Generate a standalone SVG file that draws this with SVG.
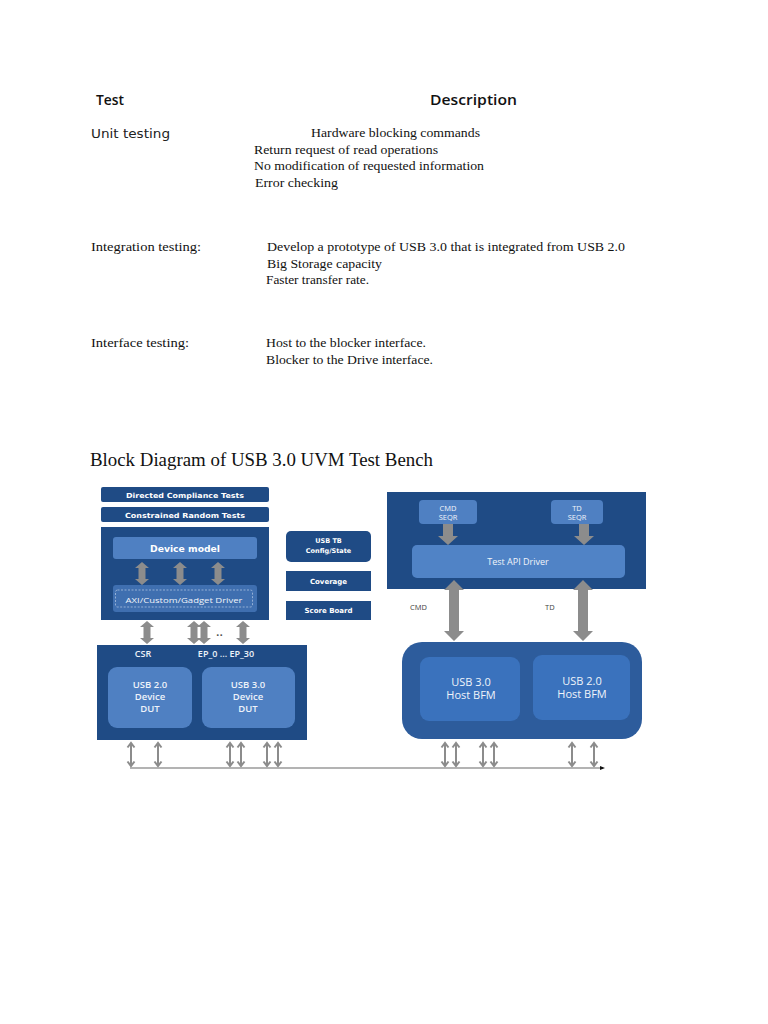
<svg xmlns="http://www.w3.org/2000/svg" width="768" height="1024" viewBox="0 0 768 1024">
<style>
.hdr{font-family:"Open Sans","DejaVu Sans",sans-serif;font-weight:600;font-size:14px;fill:#111}
.sans{font-family:"DejaVu Sans",sans-serif;font-size:13px;fill:#222}
.ser{font-family:"Liberation Serif",serif;font-size:13.5px;fill:#111}
.title{font-family:"Liberation Serif",serif;font-size:19px;fill:#111}
.bt{font-family:"DejaVu Sans",sans-serif;font-weight:bold;fill:#fff;text-anchor:middle}
.rt{font-family:"Open Sans","DejaVu Sans",sans-serif;fill:#f0f4fa;text-anchor:middle}
.st{font-family:"Open Sans","DejaVu Sans",sans-serif;font-weight:600;fill:#eef3fa;text-anchor:middle}
.lbl{font-family:"Open Sans","DejaVu Sans",sans-serif;font-size:7.5px;fill:#444}
.dark{fill:#1f4b85}
.light{fill:#4f80c2}
.ga{fill:#8c8c8c}
.thin{fill:none;stroke:#8c8c8c;stroke-width:2}
</style>
<defs>
<path id="dblS" d="M0,0 L7,6 L3.5,6 L3.5,17 L7,17 L0,23 L-7,17 L-3.5,17 L-3.5,6 L-7,6 Z"/>
<path id="dblL" d="M0,0 L10,10 L5,10 L5,51 L10,51 L0,61 L-10,51 L-5,51 L-5,10 L-10,10 Z"/>
<path id="down" d="M-5,0 L5,0 L5,12 L10,12 L0,21 L-10,12 L-5,12 Z"/>
<path id="thinA" d="M0,743 L0,766 M-3.5,747.5 L0,743 L3.5,747.5 M-3.5,761.5 L0,766 L3.5,761.5"/>
</defs>
<rect width="768" height="1024" fill="#fff"/>

<g id="table">
<text class="hdr" x="96" y="105" textLength="28" lengthAdjust="spacingAndGlyphs">Test</text>
<text class="hdr" x="430" y="105" textLength="87" lengthAdjust="spacingAndGlyphs">Description</text>
<text class="sans" x="91" y="138" textLength="79" lengthAdjust="spacingAndGlyphs">Unit testing</text>
<text class="ser" x="311" y="137" textLength="169" lengthAdjust="spacingAndGlyphs">Hardware blocking commands</text>
<text class="ser" x="254" y="154" textLength="184" lengthAdjust="spacingAndGlyphs">Return request of read operations</text>
<text class="ser" x="254" y="170" textLength="230" lengthAdjust="spacingAndGlyphs">No modification of requested information</text>
<text class="ser" x="255" y="187" textLength="83" lengthAdjust="spacingAndGlyphs">Error checking</text>
<text class="ser" x="91" y="251" textLength="110" lengthAdjust="spacingAndGlyphs">Integration testing:</text>
<text class="ser" x="267" y="251" textLength="358" lengthAdjust="spacingAndGlyphs">Develop a prototype of  USB 3.0 that is integrated from USB  2.0</text>
<text class="ser" x="267" y="268" textLength="115" lengthAdjust="spacingAndGlyphs">Big Storage capacity</text>
<text class="ser" x="266" y="284" textLength="103" lengthAdjust="spacingAndGlyphs">Faster transfer rate.</text>
<text class="ser" x="91" y="347" textLength="98" lengthAdjust="spacingAndGlyphs">Interface testing:</text>
<text class="ser" x="266" y="347" textLength="160" lengthAdjust="spacingAndGlyphs">Host to the blocker interface.</text>
<text class="ser" x="266" y="364" textLength="167" lengthAdjust="spacingAndGlyphs">Blocker to the Drive interface.</text>
<text class="title" x="90" y="466" textLength="343" lengthAdjust="spacingAndGlyphs">Block Diagram of USB 3.0 UVM Test Bench</text>
</g>

<g id="directed">
<rect class="dark" x="101" y="487" width="168" height="15" rx="2"/>
<text class="bt" x="185" y="497.5" font-size="7" textLength="118" lengthAdjust="spacingAndGlyphs">Directed Compliance Tests</text>
</g>
<g id="constrained">
<rect class="dark" x="101" y="507" width="168" height="15" rx="2"/>
<text class="bt" x="185" y="517.5" font-size="7" textLength="120" lengthAdjust="spacingAndGlyphs">Constrained Random Tests</text>
</g>
<g id="device-env">
<rect class="dark" x="101" y="527" width="168" height="93"/>
</g>
<g id="device-model">
<rect class="light" x="113" y="537" width="144" height="22" rx="3"/>
<text class="bt" x="185" y="552" font-size="8.5" textLength="70" lengthAdjust="spacingAndGlyphs">Device  model</text>
</g>
<g id="axi-driver">
<rect x="113" y="585" width="144" height="27" rx="3" fill="#3f6fb0"/>
<rect x="115.5" y="590" width="137" height="17" rx="2" fill="none" stroke="#a9c0e0" stroke-width="0.8" stroke-dasharray="2,1.5"/>
<text class="rt" x="184" y="602.5" font-size="7.5" textLength="117" lengthAdjust="spacingAndGlyphs">AXI/Custom/Gadget Driver</text>
</g>
<g id="tb-config">
<rect class="dark" x="286" y="531" width="85" height="31" rx="5"/>
<text class="bt" x="328.5" y="543" font-size="6.5">USB TB</text>
<text class="bt" x="328.5" y="553" font-size="6.5">Config/State</text>
</g>
<g id="coverage">
<rect class="dark" x="286" y="571" width="85" height="20"/>
<text class="bt" x="328.5" y="583.5" font-size="7">Coverage</text>
</g>
<g id="scoreboard">
<rect class="dark" x="286" y="601" width="85" height="19"/>
<text class="bt" x="328.5" y="613" font-size="7">Score Board</text>
</g>

<g id="host-env">
<rect class="dark" x="387" y="492" width="259" height="97"/>
</g>
<g id="cmd-seqr">
<rect class="light" x="419" y="500" width="58" height="24" rx="4"/>
<text class="rt" x="448" y="510.5" font-size="7.5">CMD</text>
<text class="rt" x="448" y="520" font-size="7.5">SEQR</text>
</g>
<g id="td-seqr">
<rect class="light" x="551" y="500" width="52" height="24" rx="4"/>
<text class="rt" x="577" y="510.5" font-size="7.5">TD</text>
<text class="rt" x="577" y="520" font-size="7.5">SEQR</text>
</g>
<g id="test-api-driver">
<rect x="412" y="545" width="213" height="33" rx="5" fill="#5083c6"/>
<text class="rt" x="518" y="565" font-size="9">Test API Driver</text>
</g>

<g id="host-bfm">
<rect x="402" y="642" width="240" height="97" rx="20" fill="#2d5c9c"/>
</g>
<g id="usb30-host">
<rect x="420" y="657" width="100" height="64" rx="9" fill="#3a72bd"/>
<text class="rt" x="471" y="686" font-size="11">USB 3.0</text>
<text class="rt" x="471" y="699" font-size="11">Host  BFM</text>
</g>
<g id="usb20-host">
<rect x="533" y="655" width="97" height="65" rx="9" fill="#3a72bd"/>
<text class="rt" x="582" y="685" font-size="11">USB 2.0</text>
<text class="rt" x="582" y="698" font-size="11">Host BFM</text>
</g>

<g id="device-dut">
<rect class="dark" x="97" y="645" width="210" height="95"/>
<text class="st" x="143" y="657" font-size="9">CSR</text>
<text class="st" x="226" y="657" font-size="9">EP_0 ... EP_30</text>
</g>
<g id="usb20-device">
<rect class="light" x="108" y="667" width="84" height="61" rx="9"/>
<text class="st" x="150" y="688" font-size="9.5">USB 2.0</text>
<text class="st" x="150" y="700" font-size="9.5">Device</text>
<text class="st" x="150" y="712" font-size="9.5">DUT</text>
</g>
<g id="usb30-device">
<rect class="light" x="202" y="667" width="93" height="61" rx="9"/>
<text class="st" x="248" y="688" font-size="9.5">USB 3.0</text>
<text class="st" x="248" y="700" font-size="9.5">Device</text>
<text class="st" x="248" y="712" font-size="9.5">DUT</text>
</g>

<g id="connectors">
<use href="#dblS" class="ga" x="142" y="562"/>
<use href="#dblS" class="ga" x="180" y="562"/>
<use href="#dblS" class="ga" x="218" y="562"/>
<use href="#dblS" class="ga" x="147" y="621"/>
<use href="#dblS" class="ga" x="194" y="621"/>
<use href="#dblS" class="ga" x="204" y="621"/>
<use href="#dblS" class="ga" x="243" y="621"/>
<text x="216" y="636" font-family="DejaVu Sans,sans-serif" font-size="9" font-weight="bold" fill="#555">..</text>
<use href="#down" class="ga" x="448" y="524"/>
<use href="#down" class="ga" x="584" y="524"/>
<use href="#dblL" class="ga" x="454" y="580"/>
<use href="#dblL" class="ga" x="583" y="580"/>
<text class="lbl" x="410" y="610">CMD</text>
<text class="lbl" x="545" y="610">TD</text>
<use href="#thinA" class="thin" x="131"/>
<use href="#thinA" class="thin" x="158"/>
<use href="#thinA" class="thin" x="230"/>
<use href="#thinA" class="thin" x="241"/>
<use href="#thinA" class="thin" x="267"/>
<use href="#thinA" class="thin" x="278"/>
<use href="#thinA" class="thin" x="445"/>
<use href="#thinA" class="thin" x="456"/>
<use href="#thinA" class="thin" x="483"/>
<use href="#thinA" class="thin" x="494"/>
<use href="#thinA" class="thin" x="572"/>
<use href="#thinA" class="thin" x="594"/>
<line x1="130" y1="768" x2="603" y2="768" stroke="#9a9a9a" stroke-width="1.5"/>
<path d="M600,766 L605,768 L600,770 Z" fill="#111"/>
</g>
</svg>
